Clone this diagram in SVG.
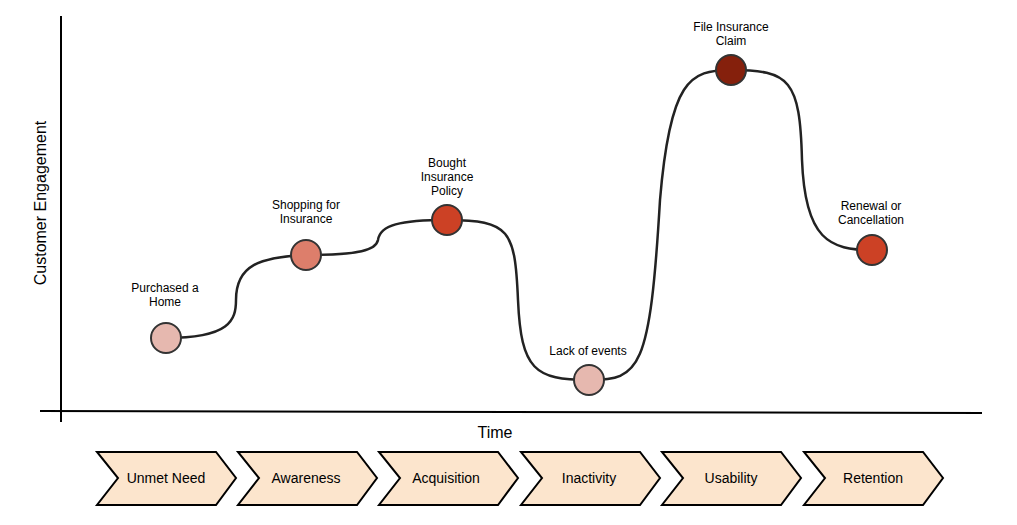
<svg xmlns="http://www.w3.org/2000/svg" width="1017" height="525" viewBox="0 0 1017 525">
<style>
text{font-family:"Liberation Sans",Arial,sans-serif;fill:#000}
.lbl{font-size:12px;text-anchor:middle}
.stg{font-size:14px;text-anchor:middle}
.chev{fill:#fce5cd;stroke:#000;stroke-width:2}
.dot{stroke:#333;stroke-width:2}
</style>
<rect width="1017" height="525" fill="#fff"/>
<g id="axes" stroke="#000" stroke-width="2">
<line x1="61" y1="16" x2="61" y2="422"/>
<line x1="40" y1="411" x2="982" y2="413"/>
</g>
<text x="49" y="206" font-size="16" text-anchor="middle" transform="rotate(-90 46 206)">Customer Engagement</text>
<text x="495" y="438" font-size="16" text-anchor="middle">Time</text>
<g id="connectors">
<path d="M166,338 C230,338 236,320 236,300 C236,265 260,257 306,255 C360,255 376,250 378,240 C380,225 400,220 447,220 C510,220 515,230 518,300 C521,370 535,380 589,380 C640,380 650,370 660,200 C670,80 690,70 731,70 C790,70 800,80 802,160 C805,240 830,250 872,250" fill="none" stroke="#222" stroke-width="2.5"/>
</g>
<g id="n1"><circle class="dot" cx="166" cy="338" r="15" fill="#e6b8af"/><text class="lbl" x="165" y="292">Purchased a</text><text class="lbl" x="165" y="306">Home</text></g>
<g id="n2"><circle class="dot" cx="306" cy="255" r="15" fill="#dd7e6b"/><text class="lbl" x="306" y="209">Shopping for</text><text class="lbl" x="306" y="223">Insurance</text></g>
<g id="n3"><circle class="dot" cx="447" cy="220" r="15" fill="#cc4125"/><text class="lbl" x="447" y="167">Bought</text><text class="lbl" x="447" y="181">Insurance</text><text class="lbl" x="447" y="195">Policy</text></g>
<g id="n4"><circle class="dot" cx="589" cy="380" r="15" fill="#e6b8af"/><text class="lbl" x="588" y="355">Lack of events</text></g>
<g id="n5"><circle class="dot" cx="731" cy="70" r="15" fill="#85200c"/><text class="lbl" x="731" y="31">File Insurance</text><text class="lbl" x="731" y="45">Claim</text></g>
<g id="n6"><circle class="dot" cx="872" cy="250" r="15" fill="#cc4125"/><text class="lbl" x="871" y="210">Renewal or</text><text class="lbl" x="871" y="224">Cancellation</text></g>
<g id="stages">
<g id="s1"><path class="chev" d="M97,452 H216 L236,478 L216,505 H97 L118,478 Z"/><text class="stg" x="166" y="483">Unmet Need</text></g>
<g id="s2"><path class="chev" d="M238,452 H357 L377,478 L357,505 H238 L259,478 Z"/><text class="stg" x="306" y="483">Awareness</text></g>
<g id="s3"><path class="chev" d="M379,452 H498 L518,478 L498,505 H379 L400,478 Z"/><text class="stg" x="446" y="483">Acquisition</text></g>
<g id="s4"><path class="chev" d="M521,452 H640 L660,478 L640,505 H521 L542,478 Z"/><text class="stg" x="589" y="483">Inactivity</text></g>
<g id="s5"><path class="chev" d="M662,452 H781 L801,478 L781,505 H662 L683,478 Z"/><text class="stg" x="731" y="483">Usability</text></g>
<g id="s6"><path class="chev" d="M804,452 H923 L943,478 L923,505 H804 L825,478 Z"/><text class="stg" x="873" y="483">Retention</text></g>
</g>
</svg>
